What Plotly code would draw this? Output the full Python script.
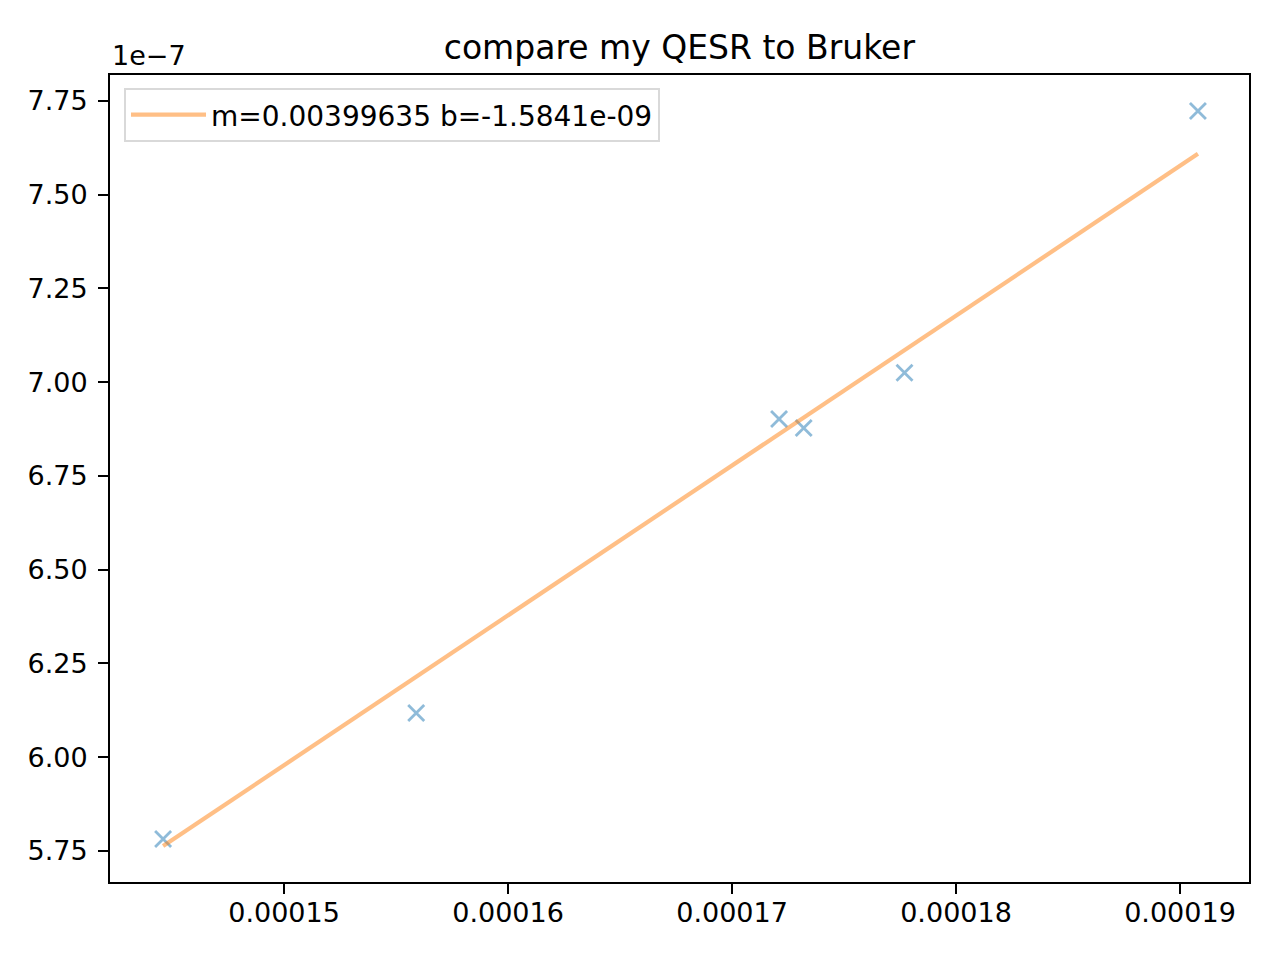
import plotly.graph_objects as go

# measured points (x = my QESR, y = Bruker)
qesr = [0.0001446, 0.0001559, 0.0001721, 0.0001732, 0.0001777, 0.0001908]
bruker = [5.782e-7, 6.118e-7, 6.902e-7, 6.878e-7, 7.025e-7, 7.723e-7]

# fitted line values
fit_y = [5.763e-7, 6.215e-7, 6.862e-7, 6.906e-7, 7.086e-7, 7.609e-7]
fit_label = "m=0.00399635 b=-1.5841e-09"

x_ticks = [0.00015, 0.00016, 0.00017, 0.00018, 0.00019]
x_ticktext = ["0.00015", "0.00016", "0.00017", "0.00018", "0.00019"]
y_ticks = [5.75e-7, 6.0e-7, 6.25e-7, 6.5e-7, 6.75e-7, 7.0e-7, 7.25e-7, 7.5e-7, 7.75e-7]
y_ticktext = ["5.75", "6.00", "6.25", "6.50", "6.75", "7.00", "7.25", "7.50", "7.75"]

font = "DejaVu Sans"

fig = go.Figure()
fig.add_trace(
    go.Scatter(
        x=qesr,
        y=bruker,
        mode="markers",
        marker=dict(
            symbol="x-thin",
            size=16,
            color="rgba(31,119,180,0.5)",
            line=dict(width=2.8, color="rgba(31,119,180,0.5)"),
        ),
        showlegend=False,
    )
)
fig.add_trace(
    go.Scatter(
        x=qesr,
        y=fit_y,
        mode="lines",
        line=dict(color="rgba(255,127,14,0.5)", width=4.2),
        name=fit_label,
    )
)

axis_common = dict(
    showgrid=False,
    zeroline=False,
    showline=True,
    mirror=True,
    linecolor="black",
    linewidth=2,
    ticks="outside",
    ticklen=10,
    tickwidth=2,
    tickcolor="black",
    tickfont=dict(family=font, size=27, color="black"),
)

fig.update_xaxes(
    range=[0.00014223, 0.00019308],
    tickvals=x_ticks,
    ticktext=x_ticktext,
    ticklabelstandoff=-4,
    **axis_common,
)
fig.update_yaxes(
    range=[5.6673e-7, 7.8193e-7],
    tickvals=y_ticks,
    ticktext=y_ticktext,
    ticklabelstandoff=5,
    **axis_common,
)

fig.update_layout(
    width=1280,
    height=960,
    margin=dict(l=102, r=39, t=67, b=86),
    paper_bgcolor="white",
    plot_bgcolor="white",
    font=dict(family=font, color="black"),
    title=dict(
        text="compare my QESR to Bruker",
        x=0.5245,
        xanchor="center",
        y=0.959,
        yanchor="middle",
        font=dict(family=font, size=33, color="black"),
    ),
    legend=dict(
        x=0.0123,
        y=0.984,
        xanchor="left",
        yanchor="top",
        itemwidth=75,
        bgcolor="rgba(255,255,255,0.8)",
        bordercolor="#d9d9d9",
        borderwidth=2,
        font=dict(family=font, size=28, color="black"),
    ),
    annotations=[
        dict(
            text="1e\u22127",
            xref="paper",
            yref="paper",
            x=0,
            y=1,
            xanchor="left",
            yanchor="bottom",
            yshift=2,
            showarrow=False,
            font=dict(family=font, size=27, color="black"),
        )
    ],
)

fig.write_html("out.html")
